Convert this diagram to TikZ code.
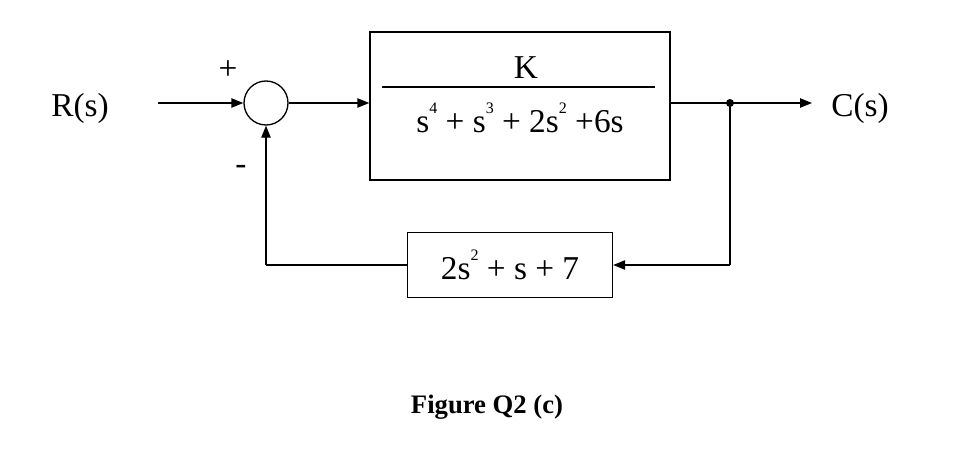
\documentclass[tikz,border=0pt]{standalone}
\usepackage{fontspec}
\setmainfont{Liberation Serif}
\usetikzlibrary{arrows.meta}
\newcommand{\myexp}[1]{\raisebox{0.55em}{\fontsize{12}{12}\selectfont #1}}
\begin{document}
\begin{tikzpicture}[x=0.75pt,y=-0.75pt,
  line/.style={line width=1pt},
  arr/.style={line width=1pt,-{Triangle[length=9pt,width=7pt]}},
  lbl/.style={font=\fontsize{25}{28}\selectfont},
  blk/.style={draw,line width=1pt,inner sep=0pt}]
\useasboundingbox (0,0) rectangle (974,450);
\node[lbl] (R) at (80,108) {R(s)};
\coordinate (in) at (158,103);
\node[draw,circle,line width=1pt,minimum size=44pt*0.75,inner sep=0pt] (sum) at (266,103) {};
\node[lbl] (plus) at (228,70) {+};
\node[lbl] (minus) at (241,170) {-};
\node[blk,minimum width=300*0.75pt,minimum height=148*0.75pt] (G) at (520,106) {};
\node[lbl] (K) at (526,68) {K};
\coordinate (fl) at (382,87);
\coordinate (fr) at (655,87);
\node[lbl] (den) at (520,118) {s\myexp{4} + s\myexp{3} + 2s\myexp{2} +6s};
\coordinate (dot) at (730,103);
\node[lbl] (C) at (860,108) {C(s)};
\coordinate (co) at (812,103);
\node[blk,minimum width=205*0.75pt,minimum height=65*0.75pt,lbl] (H) at (510,265) {2s\myexp{2} + s + 7};
\coordinate (br) at (730,265);
\coordinate (bl) at (266,265);
\node[font=\bfseries\fontsize{20}{24}\selectfont] (cap) at (487,407) {Figure Q2 (c)};
\draw[line] (fl) -- (fr);
\draw[arr] (in) -- (sum.west);
\draw[arr] (sum.east) -- (G.west |- sum.east);
\draw[line] (G.east |- dot) -- (dot);
\draw[arr] (dot) -- (co);
\fill (dot) circle (4);
\draw[line] (dot) -- (br);
\draw[arr] (br) -- (H.east);
\draw[line] (H.west) -- (bl);
\draw[arr] (bl) -- (sum.south);
\end{tikzpicture}
\end{document}
